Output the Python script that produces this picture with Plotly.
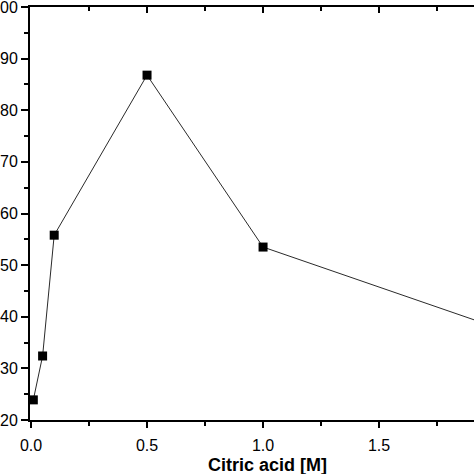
import plotly.graph_objects as go

citric = [0.01, 0.05, 0.1, 0.5, 1.0, 2.0]
values = [23.9, 32.4, 55.8, 86.8, 53.5, 38.0]
x_ticks = [0.0, 0.5, 1.0, 1.5]
x_ticklabels = ["0.0", "0.5", "1.0", "1.5"]
y_ticks = [20, 30, 40, 50, 60, 70, 80, 90, 100]

FONT = "Liberation Sans, Arial, sans-serif"
XR = [-0.0043, 1.909]
YR = [20, 100]

fig = go.Figure()
fig.add_trace(go.Scatter(
    x=citric, y=values, mode="lines+markers",
    line=dict(color="#2a2a2a", width=1),
    marker=dict(symbol="square", size=9, color="black"),
    cliponaxis=False, showlegend=False, hoverinfo="skip",
))
# invisible trace to create the top axis
fig.add_trace(go.Scatter(
    x=citric, y=values, mode="lines", xaxis="x2",
    line=dict(width=0), opacity=0, showlegend=False, hoverinfo="skip",
))

axis_common = dict(linecolor="black", linewidth=2, tickcolor="black",
                   tickwidth=1.5, showgrid=False, zeroline=False,
                   automargin=False)

fig.update_layout(
    width=474, height=474,
    margin=dict(l=30, r=0, t=7, b=54),
    paper_bgcolor="white", plot_bgcolor="white",
    font=dict(family=FONT, size=16, color="black"),
    xaxis=dict(range=XR, tickvals=x_ticks, ticktext=x_ticklabels,
               ticks="outside", ticklen=6, showline=True,
               ticklabeloverflow="allow", ticklabelstandoff=4,
               minor=dict(dtick=0.25, tick0=0, ticks="outside", ticklen=4,
                          tickcolor="black", tickwidth=1.5),
               tickfont=dict(size=16), **axis_common),
    xaxis2=dict(range=XR, overlaying="x", side="top", anchor="y",
                tickvals=x_ticks, showticklabels=False,
                ticks="inside", ticklen=6, showline=True,
                minor=dict(dtick=0.25, tick0=0, ticks="inside", ticklen=4,
                           tickcolor="black", tickwidth=1.5),
                **axis_common),
    yaxis=dict(range=YR, tickvals=y_ticks, ticks="outside", ticklen=7,
               showline=True, ticklabeloverflow="allow",
               minor=dict(dtick=5, tick0=0, ticks="outside", ticklen=4,
                          tickcolor="black", tickwidth=1.5),
               tickfont=dict(size=16), **axis_common),
    annotations=[dict(text="<b>Citric acid [M]</b>", xref="paper", yref="paper",
                      x=(267 - 30) / 444, y=-(465 - 420) / 413,
                      xanchor="center", yanchor="middle", showarrow=False,
                      font=dict(family=FONT, size=18, color="black"))],
)

fig.write_html("out.html")
